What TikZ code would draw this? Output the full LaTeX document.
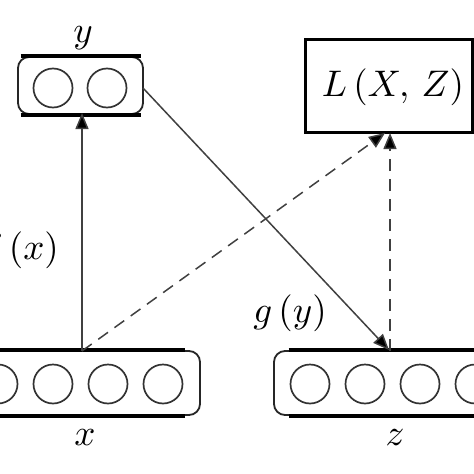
\documentclass[tikz,border=0pt]{standalone}
\usepackage{graphicx}
\usetikzlibrary{arrows.meta}
\newcommand{\biglab}[1]{\scalebox{3.7}{$#1$}}
\begin{document}
\begin{tikzpicture}[x=1pt,y=-1pt,
  layer/.style={draw=black!85,line width=1.8pt,rounded corners=11pt,inner sep=0pt},
  unit/.style={draw=black!80,line width=1.7pt,circle,minimum size=39pt,inner sep=0pt},
  lab/.style={inner sep=0pt},
  conn/.style={line width=1.5pt,draw=black!75,-{Triangle[length=16pt,width=13pt,fill=black]}},
  dconn/.style={conn,dash pattern=on 12pt off 8pt}]
\useasboundingbox (0,0) rectangle (474,474);
\fill[white] (0,0) rectangle (474,474);
% layers
\node[layer,minimum width=125pt,minimum height=57pt] (ybox) at (80.5,85.5) {};
\node[layer,minimum width=239pt,minimum height=64pt] (xbox) at (80.5,383) {};
\node[layer,minimum width=237pt,minimum height=64pt] (zbox) at (392.5,383) {};
\node[draw=black,line width=3pt,minimum width=167pt,minimum height=93pt,inner sep=0pt] (lbox) at (388.5,85.5) {};
\node[lab] (ltext) at (393,87) {\biglab{L\,(X,\,Z)}};
% thick top/bottom edges
\draw[line width=3.6pt] ([xshift=-60pt]ybox.north) -- ([xshift=60pt]ybox.north);
\draw[line width=3.6pt] ([xshift=-60pt]ybox.south) -- ([xshift=60pt]ybox.south);
\draw[line width=3.6pt] ([xshift=-119pt]xbox.north) -- ([xshift=104pt]xbox.north);
\draw[line width=3.6pt] ([xshift=-119pt]xbox.south) -- ([xshift=104pt]xbox.south);
\draw[line width=3.6pt] ([xshift=-104pt]zbox.north) -- ([xshift=119pt]zbox.north);
\draw[line width=3.6pt] ([xshift=-104pt]zbox.south) -- ([xshift=119pt]zbox.south);
% units
\node[unit] (y1) at (53,88) {};
\node[unit] (y2) at (107,88) {};
\node[unit] (x1) at (-2,384) {};
\node[unit] (x2) at (53,384) {};
\node[unit] (x3) at (108,384) {};
\node[unit] (x4) at (163,384) {};
\node[unit] (z1) at (310,384) {};
\node[unit] (z2) at (365,384) {};
\node[unit] (z3) at (420,384) {};
\node[unit] (z4) at (475,384) {};
% labels
\node[lab] (ylab) at (83,38) {\biglab{y}};
\node[lab] (xlab) at (85,438) {\biglab{x}};
\node[lab] (zlab) at (395,438) {\biglab{z}};
\node[lab,anchor=east] (flab) at (59,250) {\biglab{f\,(x)}};
\node[lab] (glab) at (290,313) {\biglab{g\,(y)}};
% connectors
\coordinate (xtop) at (82,351);
\coordinate (ybot) at (82,113);
\coordinate (yright) at (143,88);
\coordinate (ztop) at (389,350);
\coordinate (ztop2) at (390,351);
\coordinate (lbot1) at (385,133);
\coordinate (lbot2) at (390,133);
\draw[conn] (xtop) -- (ybot);
\draw[conn] (yright) -- (ztop);
\draw[dconn] (xtop) -- (lbot1);
\draw[dconn] (ztop2) -- (lbot2);
\end{tikzpicture}
\end{document}
